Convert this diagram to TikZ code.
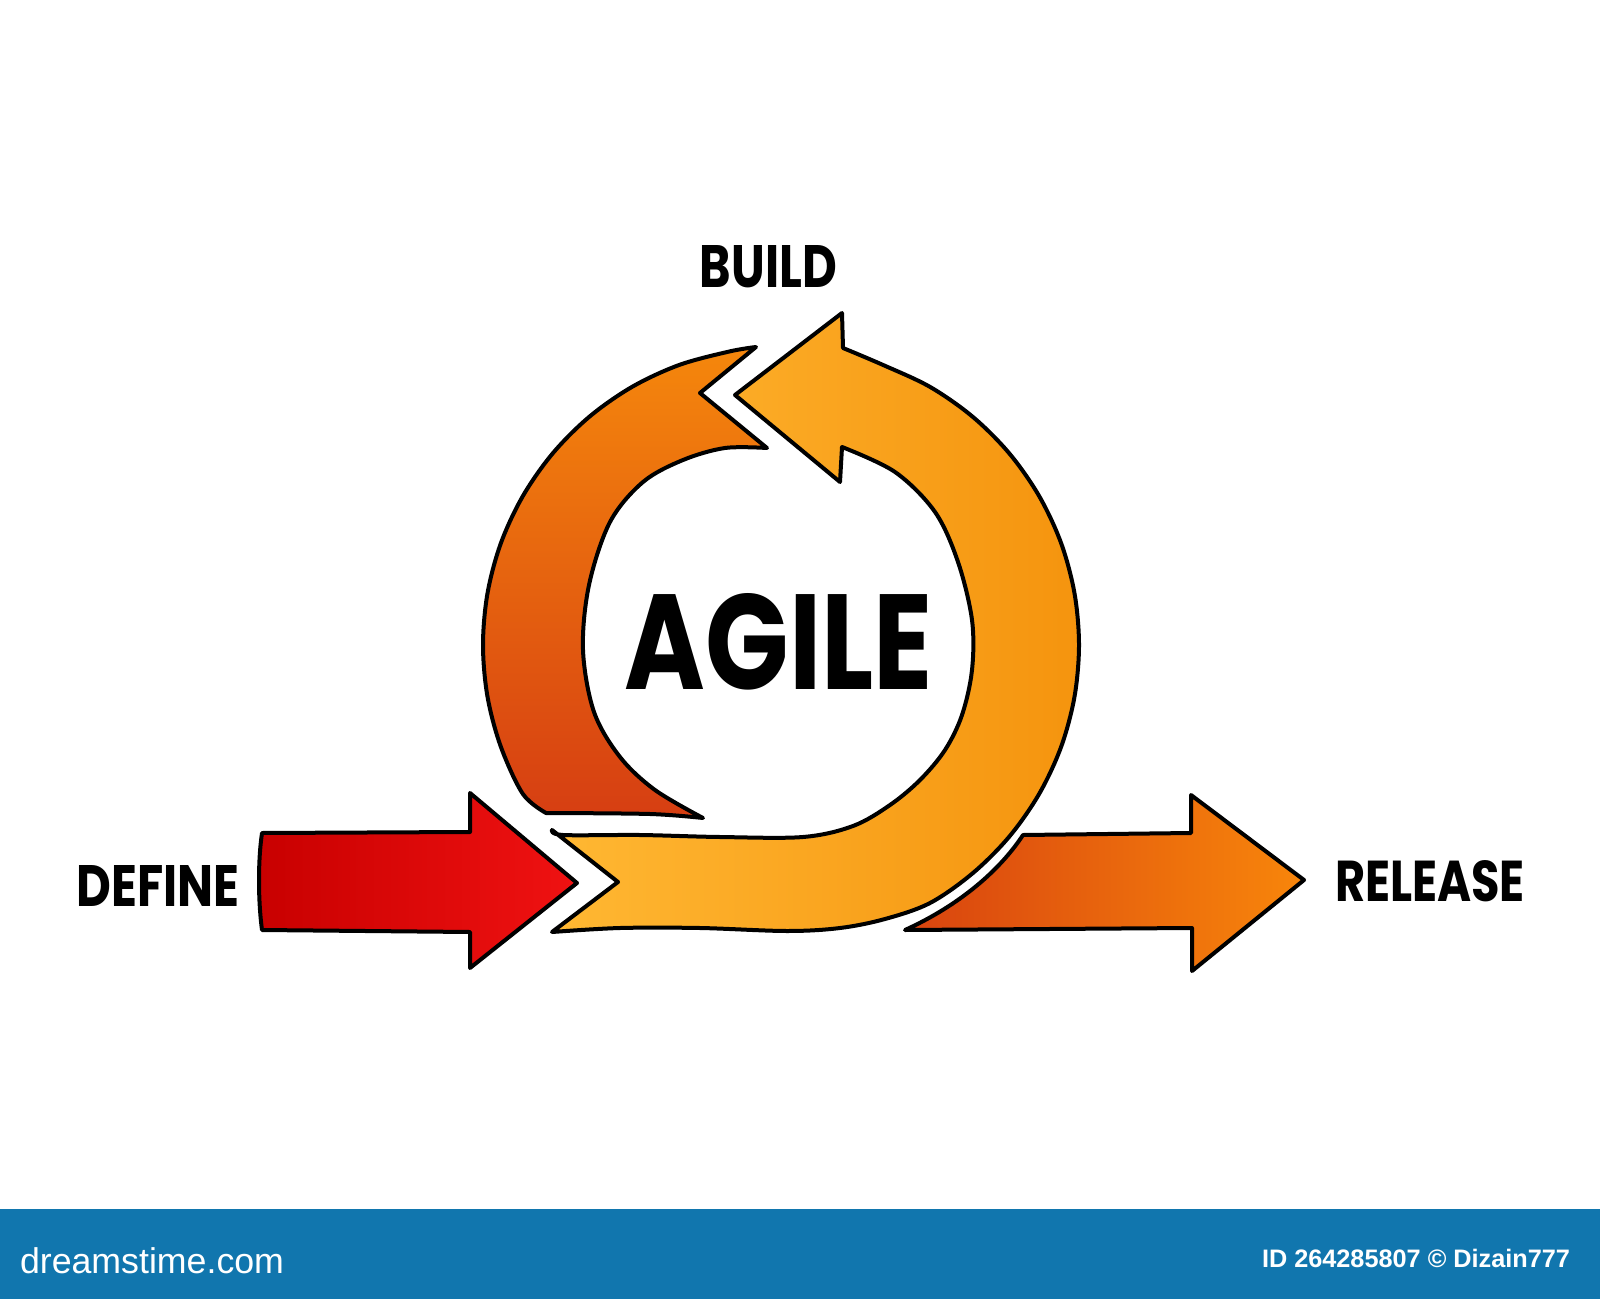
\documentclass[tikz,border=0pt]{standalone}
\usepackage{fontspec}
\setmainfont{Poppins}
\newfontfamily\barfont{Liberation Sans}
\usepackage{graphicx}
\definecolor{barblue}{HTML}{1176AE}
\definecolor{bandL}{HTML}{FFB833}
\definecolor{bandR}{HTML}{F5940E}
\definecolor{arcT}{HTML}{F5870C}
\definecolor{arcB}{HTML}{D63E12}
\definecolor{defL}{HTML}{C80000}
\definecolor{defR}{HTML}{F01212}
\definecolor{relL}{HTML}{D8430F}
\definecolor{relR}{HTML}{F8860B}
\begin{document}
\begin{tikzpicture}[x=0.5pt,y=-0.5pt,
  outl/.style={draw=black, line width=2pt, line join=round},
  lbl/.style={inner sep=0pt, text=black},
  bartext/.style={inner sep=0pt, text=white}]
\useasboundingbox (0,0) rectangle (1600,1299);
\fill[white] (0,0) rectangle (1600,1299);

% right arc + bottom band
\filldraw[outl, left color=bandL, right color=bandR]
  (843,348) -- (842,313) -- (735,395) -- (840,482) -- (842,447)
  -- plot[smooth, tension=0.55] coordinates {(842,447) (895,472) (935,512) (958,562) (972,620) (972,670) (962,715) (945,750) (920,780) (890,805) (853,826) (803,837) (720,837) (640,835) (563,835) (552,830)}
  -- (618,882) -- (552,932)
  -- plot[smooth, tension=0.55] coordinates {(552,932) (620,928) (700,928) (787,931) (840,928) (885,919) (930,903) (972.6,873.3) (1009.3,836.6) (1039.1,794) (1061.1,746.9) (1074.5,696.7) (1079,645) (1074.5,593.3) (1061.1,543.1) (1039.1,496) (1009.3,453.4) (972.6,416.7) (930,386.9) (882.9,364.9) (843,348)}
  -- cycle;

% left arc
\filldraw[outl, top color=arcT, bottom color=arcB]
  (756,347) -- (700,393) -- (767,448)
  -- plot[smooth, tension=0.55] coordinates {(767,448) (725,448) (683,460) (643,482) (610,522) (589,585) (583,650) (594,712) (620,757) (655,790) (703,818)}
  -- plot[smooth, tension=0.55] coordinates {(703,818) (650,814) (546,813)}
  -- plot[smooth, tension=0.55] coordinates {(546,813) (522.9,794) (500.9,746.9) (487.5,696.7) (483,645) (487.5,593.3) (500.9,543.1) (522.9,496) (552.7,453.4) (589.4,416.7) (632,386.9) (679.1,365) (729.3,351.5) (756,347)}
  -- cycle;

% define arrow
\filldraw[outl, left color=defL, right color=defR]
  (262,833) -- (470,832) -- (470,793) -- (577,883) -- (470,968) -- (470,932) -- (262,930)
  .. controls (258,900) and (258,860) .. cycle;

% release arrow
\filldraw[outl, left color=relL, right color=relR]
  (905,930) .. controls (960,905) and (1000,870) .. (1023,835) -- (1191,833) -- (1191,795)
  -- (1304,880) -- (1192,971) -- (1192,928) -- cycle;

% labels
\node[lbl] (build) at (768.5,266.5) {\resizebox{68.5pt}{21pt}{\bfseries BUILD}};
\node[lbl] (define) at (158,886) {\resizebox{81.5pt}{20.5pt}{\bfseries DEFINE}};
\node[lbl] (release) at (1430,881) {\resizebox{95pt}{20.5pt}{\bfseries RELEASE}};
\node[lbl] (agile) at (779,642) {\resizebox{154pt}{48pt}{\bfseries AGILE}};

% bottom bar
\fill[barblue] (0,1209) rectangle (1600,1299);
\node[bartext] (dt) at (152,1261) {\resizebox{132pt}{!}{\barfont dreamstime.com}};
\node[bartext] (id) at (1416,1258) {\resizebox{154pt}{!}{\barfont\bfseries ID 264285807 © Dizain777}};
\end{tikzpicture}
\end{document}
